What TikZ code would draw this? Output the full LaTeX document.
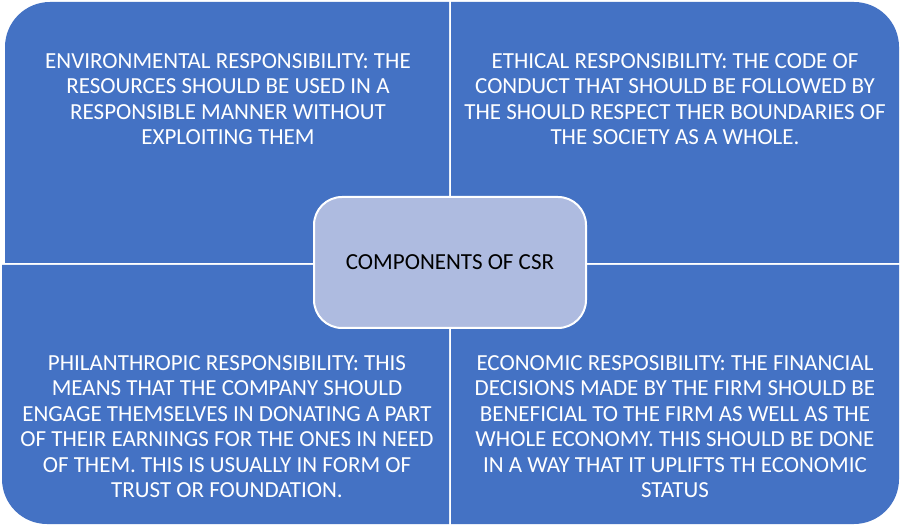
\documentclass[tikz,border=0pt]{standalone}
\usepackage{fontspec}
\setmainfont{Carlito}
\definecolor{quadblue}{RGB}{68,114,196}
\definecolor{centerfill}{RGB}{174,187,224}
\begin{document}
\begin{tikzpicture}[x=1pt,y=1pt,
  quad/.style={fill=quadblue},
  quadtext/.style={text=white, align=center, inner sep=0pt, anchor=north,
    font={\fontsize{23}{25.5}\selectfont}},
  centerbox/.style={draw=white, line width=2pt, fill=centerfill, rounded corners=28pt,
    minimum width=272pt, minimum height=131pt, inner sep=0pt,
    font={\fontsize{23}{25.5}\selectfont}, text=black}]
\useasboundingbox[fill=white] (0,0) rectangle (904,527);
% quadrants
\fill[quad] (5,264) -- (5,480) arc[start angle=180,end angle=90,radius=45] -- (449,525) -- (449,264) -- cycle;
\fill[quad] (451,264) -- (451,525) -- (854,525) arc[start angle=90,end angle=0,radius=45] -- (899,264) -- cycle;
\fill[quad] (2,262) -- (449,262) -- (449,3) -- (47,3) arc[start angle=270,end angle=180,radius=45] -- cycle;
\fill[quad] (451,262) -- (899,262) -- (899,48) arc[start angle=0,end angle=-90,radius=45] -- (451,3) -- cycle;
% texts
\node[quadtext] (env) at (228,474) {ENVIRONMENTAL RESPONSIBILITY: THE\\RESOURCES SHOULD BE USED IN A\\RESPONSIBLE MANNER WITHOUT\\EXPLOITING THEM};
\node[quadtext] (eth) at (675,474) {ETHICAL RESPONSIBILITY: THE CODE OF\\CONDUCT THAT SHOULD BE FOLLOWED BY\\THE SHOULD RESPECT THER BOUNDARIES OF\\THE SOCIETY AS A WHOLE.};
\node[quadtext] (phi) at (227,172) {PHILANTHROPIC RESPONSIBILITY: THIS\\MEANS THAT THE COMPANY SHOULD\\ENGAGE THEMSELVES IN DONATING A PART\\OF THEIR EARNINGS FOR THE ONES IN NEED\\OF THEM. THIS IS USUALLY IN FORM OF\\TRUST OR FOUNDATION.};
\node[quadtext] (eco) at (675,172) {ECONOMIC RESPOSIBILITY: THE FINANCIAL\\DECISIONS MADE BY THE FIRM SHOULD BE\\BENEFICIAL TO THE FIRM AS WELL AS THE\\WHOLE ECONOMY. THIS SHOULD BE DONE\\IN A WAY THAT IT UPLIFTS TH ECONOMIC\\STATUS};
% center
\node[centerbox] (csr) at (450,264.5) {COMPONENTS OF CSR};
\end{tikzpicture}
\end{document}
